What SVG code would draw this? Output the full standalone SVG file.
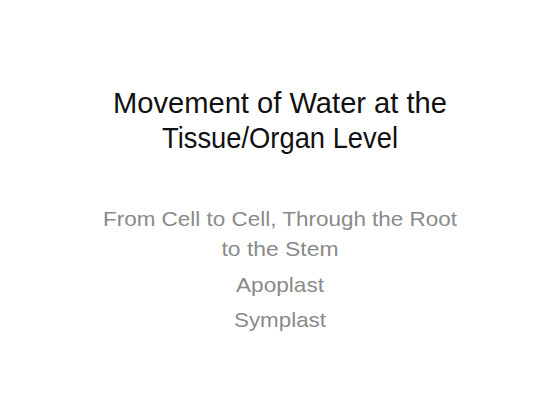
<svg xmlns="http://www.w3.org/2000/svg" width="560" height="420" viewBox="0 0 560 420">
<style>
.t{font-family:"Liberation Sans",Arial,sans-serif;font-size:30px;fill:#111;text-anchor:middle}
.s{font-family:"Liberation Sans",Arial,sans-serif;font-size:21px;fill:#8a8a8a;text-anchor:middle}
</style>
<rect width="560" height="420" fill="#fff"/>
<g id="title">
<text class="t" x="280" y="113" textLength="334" lengthAdjust="spacingAndGlyphs">Movement of Water at the</text>
<text class="t" x="280" y="148" textLength="236" lengthAdjust="spacingAndGlyphs">Tissue/Organ Level</text>
</g>
<g id="subtitle">
<text class="s" x="280" y="226" textLength="354" lengthAdjust="spacingAndGlyphs">From Cell to Cell, Through the Root</text>
<text class="s" x="280" y="256" textLength="117" lengthAdjust="spacingAndGlyphs">to the Stem</text>
<text class="s" x="280" y="292" textLength="88" lengthAdjust="spacingAndGlyphs">Apoplast</text>
<text class="s" x="280" y="327" textLength="92" lengthAdjust="spacingAndGlyphs">Symplast</text>
</g>
</svg>
